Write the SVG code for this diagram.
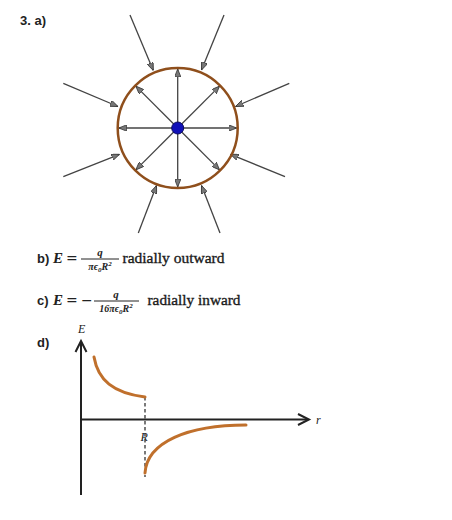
<svg xmlns="http://www.w3.org/2000/svg" width="452" height="520" viewBox="0 0 452 520">
<style>
.lbl{font-family:"Liberation Sans",Arial,sans-serif;font-weight:bold;font-size:13px;fill:#222}
.math{font-family:"Liberation Serif","DejaVu Serif",serif;font-style:italic;fill:#222}
.txt{font-family:"Liberation Serif","DejaVu Serif",serif;font-size:15.5px;fill:#1a1a1a;stroke:#1a1a1a;stroke-width:0.35}
.op{font-family:"DejaVu Serif","Liberation Serif",serif;font-size:14px;fill:#222}
.fl{stroke:#444;stroke-width:1.3;fill:none;marker-end:url(#ah)}
.ax{stroke:#222;stroke-width:2;fill:none}
.cur{stroke:#c0702c;stroke-width:3;fill:none;stroke-linecap:round}
</style>
<defs>
<marker id="ah" viewBox="0 0 10 8" refX="10" refY="4" markerWidth="8" markerHeight="6.4" orient="auto" markerUnits="userSpaceOnUse">
<path d="M0,0 L10,4 L0,8 Z" fill="#777" stroke="#333" stroke-width="1"/>
</marker>
</defs>
<rect width="452" height="520" fill="#fff"/>
<text class="lbl" x="20" y="25" font-size="14">3.  a)</text>

<g id="field-lines">
<line class="fl" x1="177.7" y1="128" x2="177.7" y2="69"/>
<line class="fl" x1="177.7" y1="128" x2="177.7" y2="187"/>
<line class="fl" x1="177.7" y1="128" x2="118.7" y2="128"/>
<line class="fl" x1="177.7" y1="128" x2="236.7" y2="128"/>
<line class="fl" x1="177.7" y1="128" x2="135.8" y2="86.1"/>
<line class="fl" x1="177.7" y1="128" x2="219.6" y2="86.1"/>
<line class="fl" x1="177.7" y1="128" x2="135.8" y2="169.9"/>
<line class="fl" x1="177.7" y1="128" x2="219.6" y2="169.9"/>
<line class="fl" x1="130" y1="15" x2="153.3" y2="70.5"/>
<line class="fl" x1="224" y1="15" x2="201.5" y2="70"/>
<line class="fl" x1="289.3" y1="83.3" x2="235.5" y2="106.5"/>
<line class="fl" x1="63.3" y1="83.3" x2="118" y2="106.5"/>
<line class="fl" x1="63.3" y1="176.7" x2="119.5" y2="154.3"/>
<line class="fl" x1="285" y1="176.7" x2="230.5" y2="154.3"/>
<line class="fl" x1="138.3" y1="233" x2="156.5" y2="185.5"/>
<line class="fl" x1="220" y1="233" x2="201.5" y2="185.5"/>
</g>

<g id="sphere">
<circle cx="177.7" cy="128" r="60" fill="none" stroke="#8f4f1c" stroke-width="2.5"/>
</g>
<g id="charge">
<circle cx="177.7" cy="128" r="6" fill="#1010b8" stroke="#0a0a60" stroke-width="1"/>
</g>

<g id="part-b">
<text class="lbl" x="37" y="263">b)</text>
<text class="math" x="53" y="263" font-size="15" font-weight="bold">E</text>
<text class="op" x="66" y="263">=</text>
<text class="math" x="100" y="255.5" font-size="11" font-weight="bold" text-anchor="middle">q</text>
<line x1="81" y1="259" x2="119" y2="259" stroke="#222" stroke-width="1"/>
<text class="math" x="100" y="269.5" font-size="10" font-weight="bold" text-anchor="middle">πϵ<tspan font-size="7" dy="2">0</tspan><tspan dy="-2">R</tspan><tspan font-size="7" dy="-4">2</tspan></text>
<text class="txt" x="122.5" y="263" textLength="102" lengthAdjust="spacingAndGlyphs">radially outward</text>
</g>

<g id="part-c">
<text class="lbl" x="37" y="305">c)</text>
<text class="math" x="53" y="305" font-size="15" font-weight="bold">E</text>
<text class="op" x="66" y="305">=</text>
<text class="op" x="81" y="305">−</text>
<text class="math" x="116" y="297.5" font-size="11" font-weight="bold" text-anchor="middle">q</text>
<line x1="94" y1="301" x2="139" y2="301" stroke="#222" stroke-width="1"/>
<text class="math" x="116" y="311.5" font-size="10" font-weight="bold" text-anchor="middle">16πϵ<tspan font-size="7" dy="2">0</tspan><tspan dy="-2">R</tspan><tspan font-size="7" dy="-4">2</tspan></text>
<text class="txt" x="147.5" y="305" textLength="93" lengthAdjust="spacingAndGlyphs">radially inward</text>
</g>

<g id="part-d">
<text class="lbl" x="37" y="347">d)</text>
<g id="axes">
<line class="ax" x1="81" y1="495" x2="81" y2="341"/>
<polyline class="ax" points="75.5,352 81,341 86.5,352"/>
<line class="ax" x1="81" y1="419.5" x2="308" y2="419.5"/>
<polyline class="ax" points="298,414 309,419.5 298,425"/>
</g>
<text class="math" x="78" y="333" font-size="12">E</text>
<text class="math" x="316" y="424" font-size="12">r</text>
<line x1="145" y1="397" x2="145" y2="477" stroke="#222" stroke-width="1.2" stroke-dasharray="3.5,2.5"/>
<text class="math" x="140.5" y="441" font-size="12">R</text>
<path class="cur" d="M94,357 C98,380 113,393 145,397"/>
<path class="cur" d="M145,473 C147,442 188,425 246,425"/>
</g>
</svg>
